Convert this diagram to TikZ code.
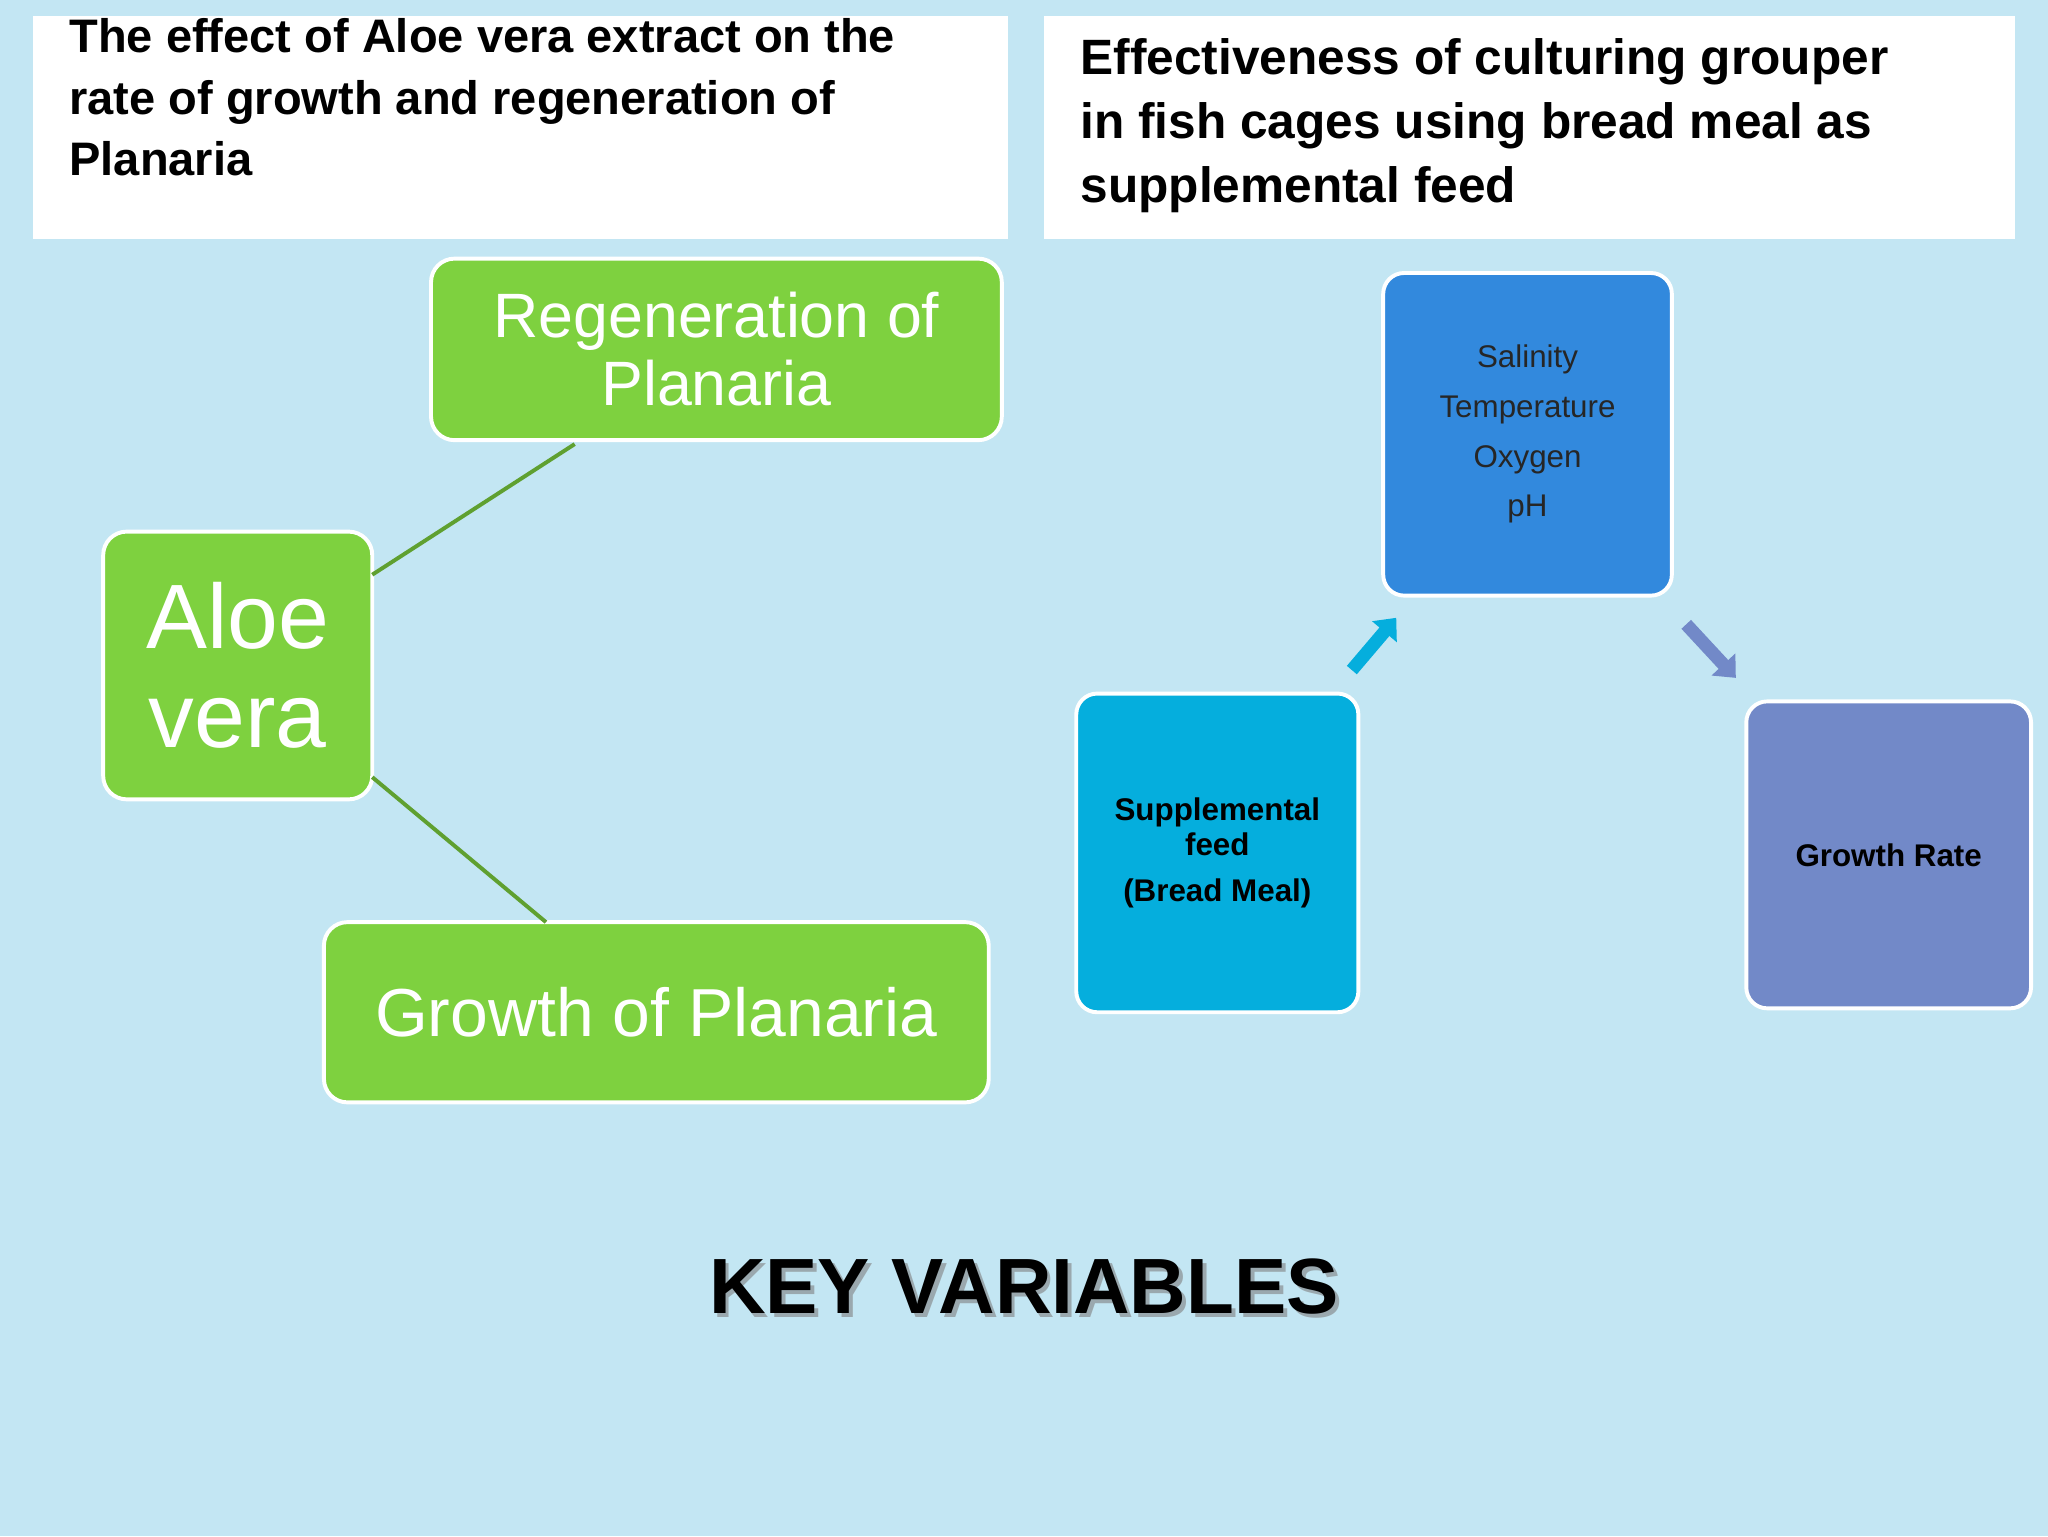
\documentclass[tikz,border=0pt]{standalone}
\usepackage{fontspec}
\setmainfont{Liberation Sans}
\usetikzlibrary{arrows.meta}
\definecolor{bg}{HTML}{C3E6F3}
\definecolor{gr}{HTML}{7ED13F}
\definecolor{grl}{HTML}{5FA030}
\definecolor{b1}{HTML}{3289DD}
\definecolor{b2}{HTML}{05AEDD}
\definecolor{b3}{HTML}{7289C8}
\begin{document}
\begin{tikzpicture}[x=1pt,y=-1pt,
  wbox/.style={fill=white,draw=none,inner sep=0},
  gbox/.style={fill=gr,draw=white,line width=3pt,rounded corners=18pt,text=white,align=center},
  bbox/.style={draw=white,line width=3pt,rounded corners=16pt,align=center,text=black!85},
  gline/.style={grl,line width=3pt},
  barrow/.style={line width=10pt,-{Triangle[length=14pt,width=24pt]}}]
\useasboundingbox (0,0) rectangle (1568,1176);
\fill[bg] (0,0) rectangle (1568,1176);
\fill[white] (25,12) rectangle (772,183);
\fill[white] (799,12) rectangle (1543,183);
\node[anchor=north west,align=left,inner sep=0,font=\fontsize{36}{47}\selectfont\bfseries] (t1) at (53,14)
 {The effect of Aloe vera extract on the\\rate of growth and regeneration of\\Planaria};
\node[anchor=north west,align=left,inner sep=0,font=\fontsize{38}{49}\selectfont\bfseries] (t2) at (827,29)
 {Effectiveness of culturing grouper\\in fish cages using bread meal as\\supplemental feed};
\node[gbox,minimum width=437pt,minimum height=139pt,font=\fontsize{48}{52}\selectfont] (reg) at (548.5,267.5) {Regeneration of\\Planaria};
\node[gbox,minimum width=206pt,minimum height=205pt,font=\fontsize{70}{76}\selectfont] (aloe) at (182,509.5) {Aloe\\vera};
\node[gbox,minimum width=509pt,minimum height=138pt,font=\fontsize{52}{56}\selectfont] (gro) at (502.5,775) {Growth of Planaria};
\coordinate (a1) at (285,440); \coordinate (r1) at (440,340);
\coordinate (a2) at (285,595); \coordinate (g1) at (418,706);
\draw[gline] (a1) -- (r1);
\draw[gline] (a2) -- (g1);
\node[bbox,fill=b1,minimum width=221pt,minimum height=247pt,font=\fontsize{24}{38}\selectfont] (sal) at (1169.5,332.5) {Salinity\\Temperature\\Oxygen\\pH};
\node[bbox,fill=b2,minimum width=216pt,minimum height=244pt,font=\fontsize{24}{27}\selectfont\bfseries,text=black] (sup) at (932,653) {Supplemental\\feed\\[8pt](Bread Meal)};
\node[bbox,fill=b3,minimum width=218pt,minimum height=235pt,font=\fontsize{24}{27}\selectfont\bfseries,text=black] (gr) at (1446,654.5) {Growth Rate};
\coordinate (p1) at (1035,513); \coordinate (p2) at (1069,473);
\coordinate (q1) at (1291,478); \coordinate (q2) at (1329,519);
\draw[barrow,b2] (p1) -- (p2);
\draw[barrow,b3] (q1) -- (q2);
\node[font=\fontsize{60}{64}\selectfont\bfseries,text=black!50,opacity=0.6] at (787,988) {KEY VARIABLES};
\node[font=\fontsize{60}{64}\selectfont\bfseries] (kv) at (784,985) {KEY VARIABLES};
\end{tikzpicture}
\end{document}
